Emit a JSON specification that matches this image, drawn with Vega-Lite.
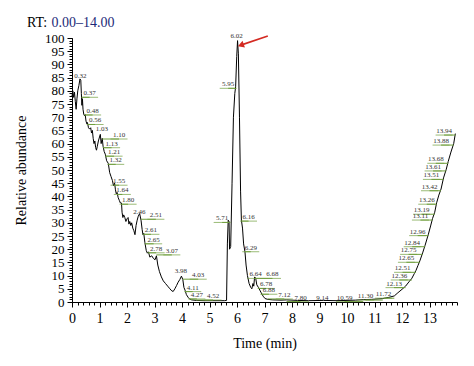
{
  "$schema": "https://vega.github.io/schema/vega-lite/v6.json",
  "width": 385,
  "height": 264,
  "autosize": "none",
  "padding": {"left": 72, "top": 38, "right": 17, "bottom": 64},
  "title": {
    "text": "RT:",
    "subtitle": "\u200b\u00a0\u00a0\u00a0\u00a0\u00a0\u00a0\u00a00.00–14.00",
    "anchor": "start",
    "frame": "group",
    "dx": -45,
    "offset": 2,
    "font": "Liberation Serif",
    "fontSize": 14,
    "fontWeight": "normal",
    "color": "black",
    "subtitleFont": "Liberation Serif",
    "subtitleFontSize": 14,
    "subtitleColor": "#1d2a78",
    "subtitlePadding": -14
  },
  "datasets": {
    "curve": [
      {"t":0.00,"v":78},{"t":0.03,"v":80},{"t":0.06,"v":77.5},{"t":0.09,"v":79.5},{"t":0.12,"v":76},{"t":0.15,"v":73},{"t":0.18,"v":77},{"t":0.21,"v":80},{"t":0.25,"v":82},{"t":0.29,"v":84.5},{"t":0.32,"v":84},{"t":0.34,"v":79},{"t":0.36,"v":74.5},{"t":0.38,"v":77},{"t":0.40,"v":73},{"t":0.43,"v":71},{"t":0.46,"v":70.5},{"t":0.48,"v":71},{"t":0.51,"v":68.5},{"t":0.54,"v":67.5},{"t":0.56,"v":68},{"t":0.60,"v":66},{"t":0.64,"v":65.5},{"t":0.68,"v":66},{"t":0.71,"v":64},{"t":0.74,"v":65},{"t":0.77,"v":62},{"t":0.80,"v":60},{"t":0.83,"v":61},{"t":0.86,"v":58.5},{"t":0.89,"v":57.5},{"t":0.92,"v":59},{"t":0.96,"v":61},{"t":1.00,"v":62.5},{"t":1.03,"v":63.5},{"t":1.06,"v":60},{"t":1.10,"v":62},{"t":1.13,"v":59},{"t":1.17,"v":57},{"t":1.21,"v":56},{"t":1.26,"v":53.5},{"t":1.32,"v":52.5},{"t":1.37,"v":49},{"t":1.42,"v":47.5},{"t":1.47,"v":46},{"t":1.51,"v":44},{"t":1.55,"v":45},{"t":1.58,"v":42.5},{"t":1.61,"v":41},{"t":1.64,"v":41.5},{"t":1.68,"v":39.5},{"t":1.72,"v":38.5},{"t":1.76,"v":37.5},{"t":1.80,"v":37.5},{"t":1.82,"v":34},{"t":1.85,"v":32},{"t":1.88,"v":33},{"t":1.92,"v":32},{"t":1.96,"v":30.5},{"t":2.00,"v":31.5},{"t":2.04,"v":32},{"t":2.07,"v":29.5},{"t":2.10,"v":30.5},{"t":2.14,"v":29},{"t":2.17,"v":30},{"t":2.21,"v":28},{"t":2.25,"v":27},{"t":2.29,"v":25.5},{"t":2.33,"v":29},{"t":2.37,"v":31},{"t":2.41,"v":32.5},{"t":2.46,"v":33.5},{"t":2.51,"v":31},{"t":2.55,"v":27.5},{"t":2.58,"v":25.5},{"t":2.61,"v":26},{"t":2.65,"v":22.5},{"t":2.70,"v":19.5},{"t":2.74,"v":18.5},{"t":2.78,"v":19},{"t":2.83,"v":17},{"t":2.90,"v":17.5},{"t":2.96,"v":16.5},{"t":3.02,"v":16},{"t":3.07,"v":17.5},{"t":3.12,"v":14},{"t":3.18,"v":11.5},{"t":3.25,"v":9.5},{"t":3.32,"v":8},{"t":3.40,"v":7},{"t":3.48,"v":6},{"t":3.56,"v":5},{"t":3.63,"v":4.2},{"t":3.68,"v":4},{"t":3.74,"v":5},{"t":3.80,"v":6.2},{"t":3.86,"v":7.5},{"t":3.92,"v":8.5},{"t":3.98,"v":9.8},{"t":4.03,"v":8.5},{"t":4.07,"v":5.5},{"t":4.11,"v":4.5},{"t":4.16,"v":2.8},{"t":4.22,"v":1.8},{"t":4.27,"v":1.2},{"t":4.35,"v":0.8},{"t":4.52,"v":0.6},{"t":4.8,"v":0.5},{"t":5.2,"v":0.5},{"t":5.55,"v":0.5},{"t":5.62,"v":0.6},{"t":5.65,"v":22},{"t":5.68,"v":31},{"t":5.71,"v":30.5},{"t":5.73,"v":20},{"t":5.77,"v":21},{"t":5.82,"v":45},{"t":5.87,"v":70},{"t":5.92,"v":79},{"t":5.95,"v":81.5},{"t":5.99,"v":93},{"t":6.02,"v":99},{"t":6.05,"v":94},{"t":6.09,"v":70},{"t":6.13,"v":42},{"t":6.16,"v":31},{"t":6.20,"v":28},{"t":6.24,"v":22},{"t":6.29,"v":19},{"t":6.33,"v":14},{"t":6.38,"v":10},{"t":6.44,"v":7},{"t":6.50,"v":5.5},{"t":6.54,"v":5},{"t":6.58,"v":7},{"t":6.61,"v":6},{"t":6.64,"v":9.5},{"t":6.68,"v":9},{"t":6.72,"v":6.5},{"t":6.78,"v":5.5},{"t":6.83,"v":4.5},{"t":6.88,"v":3.5},{"t":6.95,"v":2.2},{"t":7.02,"v":1.3},{"t":7.12,"v":1},{"t":7.3,"v":0.8},{"t":7.6,"v":0.7},{"t":7.8,"v":0.8},{"t":8.2,"v":0.6},{"t":8.6,"v":0.5},{"t":9.14,"v":0.6},{"t":9.6,"v":0.5},{"t":10.0,"v":0.6},{"t":10.3,"v":0.7},{"t":10.59,"v":0.9},{"t":10.9,"v":1},{"t":11.30,"v":1.3},{"t":11.5,"v":1.7},{"t":11.72,"v":2.3},{"t":11.85,"v":3.5},{"t":12.0,"v":4.8},{"t":12.13,"v":6},{"t":12.25,"v":7.6},{"t":12.36,"v":9},{"t":12.45,"v":10.8},{"t":12.51,"v":12},{"t":12.58,"v":13.8},{"t":12.65,"v":15.6},{"t":12.75,"v":18.6},{"t":12.84,"v":21.5},{"t":12.96,"v":25.7},{"t":13.04,"v":28.8},{"t":13.11,"v":31.6},{"t":13.19,"v":34},{"t":13.26,"v":37.6},{"t":13.34,"v":40.5},{"t":13.42,"v":42.8},{"t":13.51,"v":47},{"t":13.61,"v":50.3},{"t":13.68,"v":53.2},{"t":13.78,"v":56.8},{"t":13.88,"v":60},{"t":13.94,"v":63.8}
    ],
    "apex": [
      {"label":"0.32","lx":0.30,"ly":84.8},
      {"label":"1.03","lx":1.09,"ly":64.7},
      {"label":"2.46","lx":2.45,"ly":33.4},
      {"label":"3.98","lx":3.96,"ly":11},
      {"label":"6.02","lx":5.99,"ly":100},
      {"label":"9.14","lx":9.10,"ly":0.6}
    ],
    "marked": [
      {"label":"0.37","t":0.37,"lx":0.64,"ly":78.3},
      {"label":"0.48","t":0.48,"lx":0.75,"ly":71.6},
      {"label":"0.56","t":0.56,"lx":0.84,"ly":68},
      {"label":"1.10","t":1.10,"lx":1.71,"ly":62.5},
      {"label":"1.13","t":1.13,"lx":1.44,"ly":59.2},
      {"label":"1.21","t":1.21,"lx":1.53,"ly":56},
      {"label":"1.32","t":1.32,"lx":1.59,"ly":52.9},
      {"label":"1.55","t":1.55,"lx":1.71,"ly":45},
      {"label":"1.64","t":1.64,"lx":1.83,"ly":41.5},
      {"label":"1.80","t":1.80,"lx":2.04,"ly":37.8},
      {"label":"2.51","t":2.51,"lx":3.05,"ly":32.1},
      {"label":"2.61","t":2.61,"lx":2.87,"ly":26.4},
      {"label":"2.65","t":2.65,"lx":2.97,"ly":22.8},
      {"label":"2.78","t":2.78,"lx":3.06,"ly":19.4},
      {"label":"3.07","t":3.07,"lx":3.63,"ly":18.6},
      {"label":"4.03","t":4.03,"lx":4.59,"ly":9.4},
      {"label":"4.11","t":4.11,"lx":4.39,"ly":4.7},
      {"label":"4.27","t":4.27,"lx":4.54,"ly":1.9},
      {"label":"4.52","t":4.52,"lx":5.13,"ly":1.5},
      {"label":"5.71","t":5.71,"lx":5.46,"ly":30.9},
      {"label":"5.95","t":5.95,"lx":5.68,"ly":81.7},
      {"label":"6.16","t":6.16,"lx":6.42,"ly":31.4},
      {"label":"6.29","t":6.29,"lx":6.50,"ly":19.8},
      {"label":"6.64","t":6.64,"lx":6.68,"ly":9.7},
      {"label":"6.68","t":6.68,"lx":7.29,"ly":9.7},
      {"label":"6.78","t":6.78,"lx":7.06,"ly":5.9},
      {"label":"6.88","t":6.88,"lx":7.16,"ly":3.7},
      {"label":"7.12","t":7.12,"lx":7.72,"ly":1.9},
      {"label":"7.80","t":7.80,"lx":8.31,"ly":0.9},
      {"label":"10.59","t":10.59,"lx":9.91,"ly":0.9},
      {"label":"11.30","t":11.30,"lx":10.67,"ly":1.5},
      {"label":"11.72","t":11.72,"lx":11.33,"ly":2.2},
      {"label":"12.13","t":12.13,"lx":11.71,"ly":6.2},
      {"label":"12.36","t":12.36,"lx":11.90,"ly":9.1},
      {"label":"12.51","t":12.51,"lx":12.02,"ly":12},
      {"label":"12.65","t":12.65,"lx":12.16,"ly":15.8},
      {"label":"12.75","t":12.75,"lx":12.24,"ly":18.8},
      {"label":"12.84","t":12.84,"lx":12.37,"ly":21.7},
      {"label":"12.96","t":12.96,"lx":12.57,"ly":25.9},
      {"label":"13.11","t":13.11,"lx":12.67,"ly":31.8},
      {"label":"13.19","t":13.19,"lx":12.71,"ly":34},
      {"label":"13.26","t":13.26,"lx":12.90,"ly":37.8},
      {"label":"13.42","t":13.42,"lx":13.00,"ly":42.9},
      {"label":"13.51","t":13.51,"lx":13.07,"ly":47.2},
      {"label":"13.61","t":13.61,"lx":13.13,"ly":50.4},
      {"label":"13.68","t":13.68,"lx":13.23,"ly":53.3},
      {"label":"13.88","t":13.88,"lx":13.42,"ly":60.2},
      {"label":"13.94","t":13.94,"lx":13.53,"ly":64}
    ],
    "arrow": [
      {"x":7.12,"y":100.8,"x2":6.14,"y2":97.3}
    ]
  },
  "resolve": {"axis": {"x": "independent", "y": "independent"}},
  "layer": [
    {
      "data": {"name": "curve"},
      "mark": {"type": "line", "color": "black", "strokeWidth": 1, "interpolate": "linear"},
      "encoding": {
        "x": {"field": "t", "type": "quantitative",
              "scale": {"domain": [0, 14], "nice": false, "zero": false},
              "axis": {"orient": "bottom", "values": [0,1,2,3,4,5,6,7,8,9,10,11,12,13], "title": "Time (min)",
                       "tickSize": 5, "labelFontSize": 14, "labelPadding": 4, "titleFontSize": 14, "titlePadding": 11, "labelFlush": false}},
        "y": {"field": "v", "type": "quantitative",
              "scale": {"domain": [0, 100], "nice": false},
              "axis": {"orient": "left", "tickCount": 20, "title": "Relative abundance", "tickSize": 5,
                       "labelFontSize": 13, "labelPadding": 3, "labelOverlap": false, "labelFlush": false,
                       "titleFontSize": 14, "titlePadding": 16}}
      }
    },
    {
      "data": {"name": "marked"},
      "mark": {"type": "rule", "color": "#6f9e3c", "strokeWidth": 1, "yOffset": 2},
      "encoding": {
        "x": {"field": "t", "type": "quantitative",
              "axis": {"orient": "bottom", "tickCount": 70, "tickSize": 3, "labels": false, "domain": false, "title": null}},
        "x2": {"field": "lx"},
        "y": {"field": "ly", "type": "quantitative",
              "axis": {"orient": "left", "tickCount": 100, "tickSize": 3, "labels": false, "domain": false, "title": null}}
      }
    },
    {
      "data": {"name": "marked"},
      "mark": {"type": "tick", "orient": "horizontal", "color": "#6f9e3c", "size": 17, "thickness": 1, "yOffset": 2},
      "encoding": {
        "x": {"field": "lx", "type": "quantitative", "axis": null},
        "y": {"field": "ly", "type": "quantitative", "axis": null}
      }
    },
    {
      "data": {"name": "marked"},
      "mark": {"type": "text", "font": "Liberation Serif", "fontSize": 7, "color": "#333333", "baseline": "alphabetic", "align": "center"},
      "encoding": {
        "x": {"field": "lx", "type": "quantitative", "axis": null},
        "y": {"field": "ly", "type": "quantitative", "axis": null},
        "text": {"field": "label"}
      }
    },
    {
      "data": {"name": "apex"},
      "mark": {"type": "text", "font": "Liberation Serif", "fontSize": 7, "color": "#333333", "baseline": "alphabetic", "align": "center"},
      "encoding": {
        "x": {"field": "lx", "type": "quantitative", "axis": null},
        "y": {"field": "ly", "type": "quantitative", "axis": null},
        "text": {"field": "label"}
      }
    },
    {
      "data": {"name": "arrow"},
      "mark": {"type": "rule", "color": "#d42a22", "strokeWidth": 1.6},
      "encoding": {
        "x": {"field": "x", "type": "quantitative", "axis": null},
        "y": {"field": "y", "type": "quantitative", "axis": null},
        "x2": {"field": "x2"},
        "y2": {"field": "y2"}
      }
    },
    {
      "data": {"name": "arrow"},
      "mark": {"type": "point", "shape": "triangle-left", "filled": true, "color": "#d42a22", "size": 50, "angle": 340, "opacity": 1},
      "encoding": {
        "x": {"field": "x2", "type": "quantitative", "axis": null},
        "y": {"field": "y2", "type": "quantitative", "axis": null}
      }
    }
  ],
  "config": {
    "view": {"stroke": null},
    "font": "Liberation Serif",
    "axis": {"domainColor": "black", "tickColor": "black", "labelColor": "black", "titleColor": "black",
             "grid": false, "labelFont": "Liberation Serif", "titleFont": "Liberation Serif", "titleFontWeight": "normal"}
  }
}
